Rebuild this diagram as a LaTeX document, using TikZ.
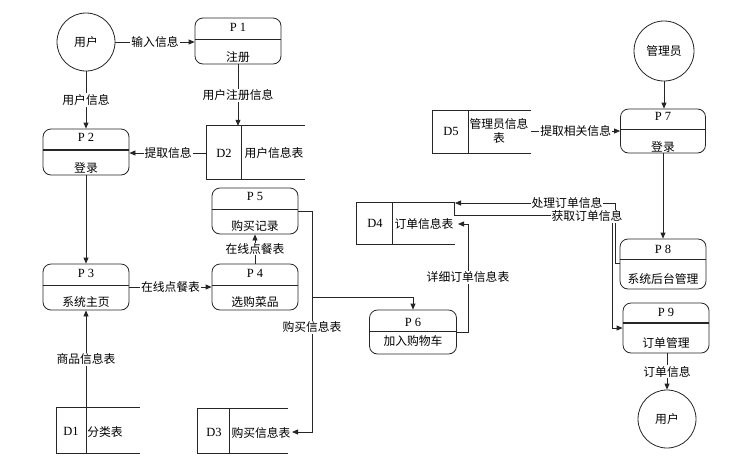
\documentclass[tikz,border=0pt]{standalone}
\usepackage{fontspec}
\setmainfont{Liberation Serif}
\newfontfamily\cjk{Noto Sans CJK SC}
\usetikzlibrary{arrows.meta}
\tikzset{
  ln/.style={line width=0.8pt, draw=black!85},
  arr/.style={ln, -{Triangle[length=6pt,width=5pt]}},
  proc/.style={draw=black!85, line width=0.8pt, rounded corners=8pt, inner sep=0pt},
  circ/.style={draw=black!85, line width=0.8pt, circle, inner sep=0pt},
  hole/.style={inner sep=0pt, draw=none},
  zh/.style={font=\cjk\fontsize{11.8}{13.5}\selectfont, inner sep=1pt},
  lat/.style={font=\fontsize{12.5}{14}\selectfont, inner sep=1pt},
  lab/.style={zh, fill=white, inner sep=1pt},
}
\begin{document}
\begin{tikzpicture}[x=1pt,y=-1pt]
\useasboundingbox (0,0) rectangle (751,464);
\fill[white] (0,0) rectangle (751,464);

% ---- circles
\node[circ, minimum size=58pt] (u1) at (86,42) {};
\node[zh] (u1t) at (86,42) {用户};
\node[circ, minimum size=60pt] (adm) at (664,51) {};
\node[zh] (admt) at (664,51) {管理员};
\node[circ, minimum size=58pt] (u2) at (667,419) {};
\node[zh] (u2t) at (667,419) {用户};

% ---- processes
\node[proc, minimum width=86pt, minimum height=46pt] (p1) at (238,41) {};
\draw[ln] (p1.west |- 0,39) -- (p1.east |- 0,39);
\node[lat] (p1a) at (238,27) {P 1};
\node[zh] (p1b) at (238,57) {注册};

\node[proc, minimum width=86pt, minimum height=46pt] (p2) at (86,152) {};
\draw[ln, line width=1.2pt] (p2.west |- 0,150) -- (p2.east |- 0,150);
\node[lat] (p2a) at (86,137) {P 2};
\node[zh] (p2b) at (86,168) {登录};

\node[proc, minimum width=86pt, minimum height=46pt] (p3) at (86,287) {};
\draw[ln] (p3.west |- 0,285) -- (p3.east |- 0,285);
\node[lat] (p3a) at (86,273) {P 3};
\node[zh] (p3b) at (86,302) {系统主页};

\node[proc, minimum width=86pt, minimum height=46pt] (p4) at (255,287) {};
\draw[ln] (p4.west |- 0,285) -- (p4.east |- 0,285);
\node[lat] (p4a) at (255,273) {P 4};
\node[zh] (p4b) at (255,302) {选购菜品};

\node[proc, minimum width=86pt, minimum height=46pt] (p5) at (255,211) {};
\draw[ln] (p5.west |- 0,209) -- (p5.east |- 0,209);
\node[lat] (p5a) at (255,196) {P 5};
\node[zh] (p5b) at (255,226) {购买记录};

\node[proc, minimum width=87pt, minimum height=44pt] (p6) at (413,332) {};
\draw[ln] (p6.west |- 0,331) -- (p6.east |- 0,331);
\node[lat] (p6a) at (413,322) {P 6};
\node[zh] (p6b) at (413,341) {加入购物车};

\node[proc, minimum width=85pt, minimum height=44pt] (p7) at (663,131) {};
\draw[ln] (p7.west |- 0,129) -- (p7.east |- 0,129);
\node[lat] (p7a) at (663,116) {P 7};
\node[zh] (p7b) at (663,147) {登录};

\node[proc, minimum width=86pt, minimum height=50pt] (p8) at (663,264) {};
\draw[ln] (p8.west |- 0,259) -- (p8.east |- 0,259);
\node[lat] (p8a) at (663,249) {P 8};
\node[zh] (p8b) at (663,279) {系统后台管理};

\node[proc, minimum width=86pt, minimum height=50pt] (p9) at (666,328) {};
\draw[ln, line width=1.2pt] (p9.west |- 0,323) -- (p9.east |- 0,323);
\node[lat] (p9a) at (666,312) {P 9};
\node[zh] (p9b) at (666,343) {订单管理};

% ---- data stores (open on the right)
\node[hole, minimum width=83pt, minimum height=45pt] (d1) at (98.5,430.5) {};
\draw[ln] (d1.north east) -- (d1.north west) -- (d1.south west) -- (d1.south east);
\draw[ln] (86,408) -- (86,453);
\node[lat] (d1a) at (71,431) {D1};
\node[zh] (d1b) at (105,432) {分类表};

\node[hole, minimum width=98pt, minimum height=53pt] (d2) at (256,152.5) {};
\draw[ln] (d2.north east) -- (d2.north west) -- (d2.south west) -- (d2.south east);
\draw[ln] (241,126) -- (241,179);
\node[lat] (d2a) at (224,153) {D2};
\node[zh] (d2b) at (274,153) {用户信息表};

\node[hole, minimum width=90pt, minimum height=44pt] (d3) at (243,431) {};
\draw[ln] (d3.north east) -- (d3.north west) -- (d3.south west) -- (d3.south east);
\draw[ln] (229,409) -- (229,453);
\node[lat] (d3a) at (214,432) {D3};
\node[zh] (d3b) at (261,433) {购买信息表};

\node[hole, minimum width=98pt, minimum height=41pt] (d4) at (406,223.5) {};
\draw[ln] (d4.north east) -- (d4.north west) -- (d4.south west) -- (d4.south east);
\draw[ln] (392,203) -- (392,244);
\node[lat] (d4a) at (375,223) {D4};
\node[zh] (d4b) at (424,224) {订单信息表};

\node[hole, minimum width=98pt, minimum height=42pt] (d5) at (482,132) {};
\draw[ln] (d5.north east) -- (d5.north west) -- (d5.south west) -- (d5.south east);
\draw[ln] (468,111) -- (468,153);
\node[lat] (d5a) at (451,131) {D5};
\node[zh, align=center] (d5b) at (499,131) {管理员信息\\表};

% ---- connectors
\draw[arr] (u1.east) -- (p1.west |- u1.east) node[lab, midway] (l1) {输入信息};
\draw[arr] (p1.south) -- (d2.north -| p1.south) node[lab, pos=0.5] (l2) {用户注册信息};
\draw[arr] (u1.south) -- (p2.north) node[lab, pos=0.5] (l3) {用户信息};
\draw[arr] (d2.west |- 0,153) -- (p2.east |- 0,153) node[lab, midway] (l4) {提取信息};
\draw[arr] (p2.south) -- (p3.north);
\draw[arr] (p3.east) -- (p4.west) node[lab, midway] (l5) {在线点餐表};
\draw[arr] (p4.north) -- (p5.south) node[lab, midway] (l6) {在线点餐表};
\draw[arr] (d1.north -| 86,0) -- (p3.south) node[lab, pos=0.5] (l7) {商品信息表};

\coordinate (j1) at (312,297);
\draw[ln] (p5.east |- 0,211) -- (312,211) -- (j1);
\draw[arr] (j1) -- (413,297) -- (p6.north);
\draw[arr] (j1) -- (312,432) -- (292,432);
\node[lab] (l8) at (312,327) {购买信息表};

\draw[arr] (p6.east) -- (468,332) -- (468,224) -- (458,224);
\node[lab] (l9) at (468,277) {详细订单信息表};

\draw[arr] (p8.west |- 0,263) -- (615,263) -- (615,203) -- (455,203);
\draw[arr] (454,203) -- (454,215) -- (612,215) -- (612,328) -- (p9.west |- 0,328);
\node[lab] (l10) at (567,203) {处理订单信息};
\node[lab] (l11) at (587,216) {获取订单信息};

\draw[arr] (d5.east |- 0,131) -- (p7.west |- 0,131) node[lab, midway] (l12) {提取相关信息};
\draw[arr] (adm.south) -- (p7.north -| adm.south);
\draw[arr] (p7.south) -- (p8.north);
\draw[arr] (p9.south -| u2.north) -- (u2.north) node[lab, midway] (l13) {订单信息};
\end{tikzpicture}
\end{document}
